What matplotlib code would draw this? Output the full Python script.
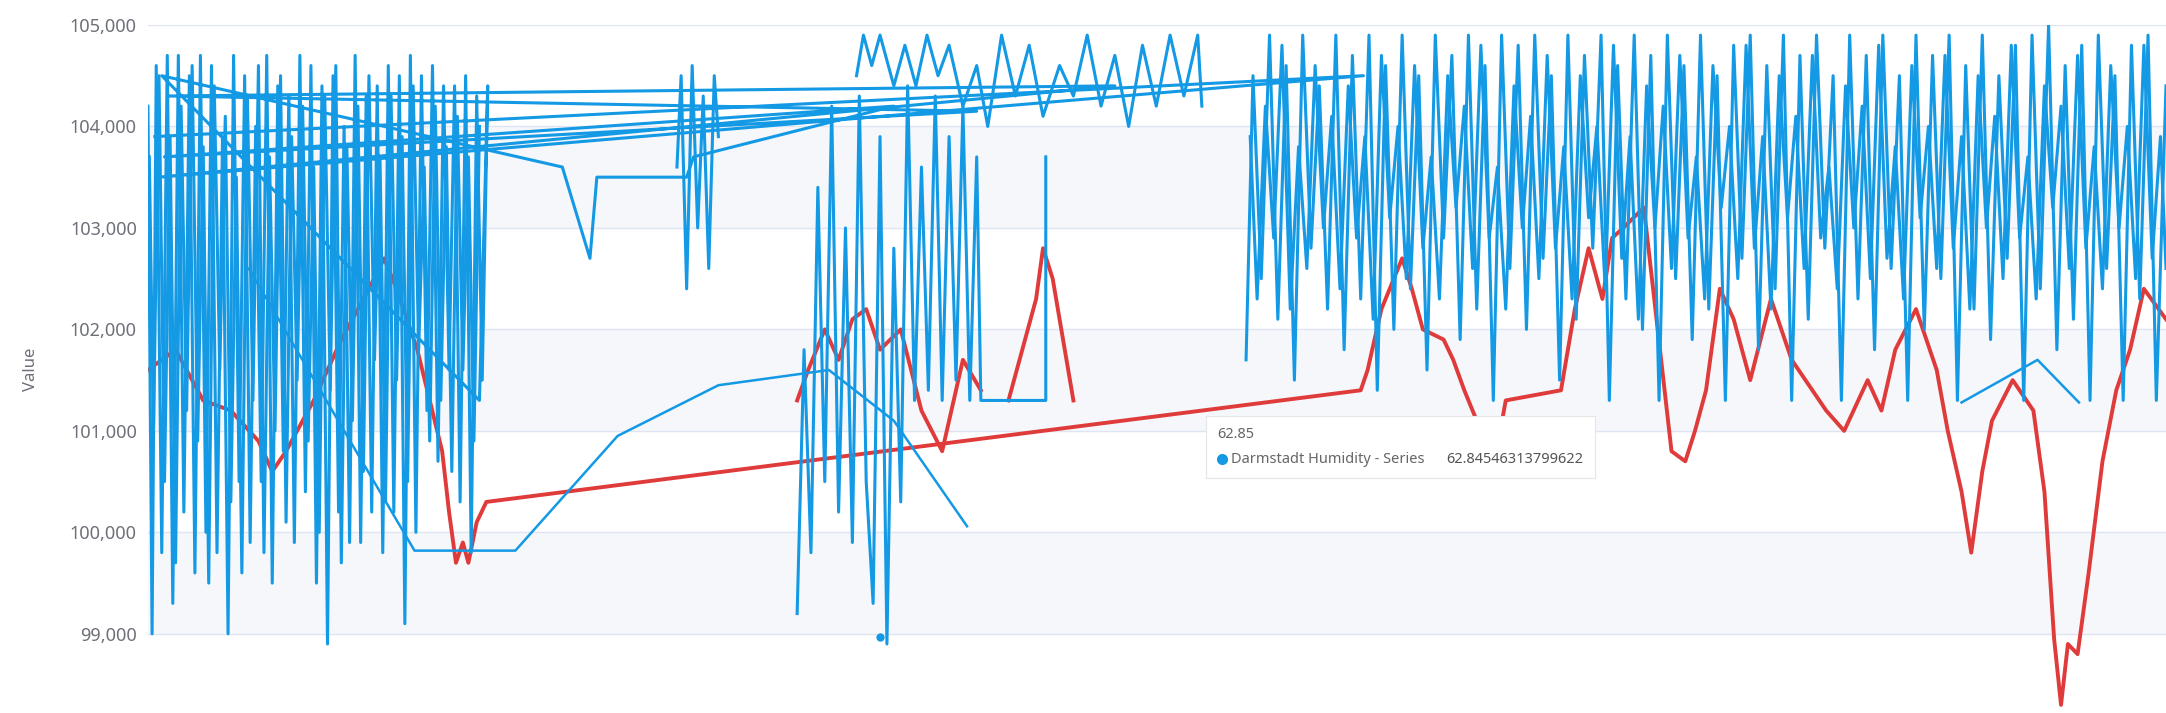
import numpy as np
import matplotlib.pyplot as plt
from matplotlib.ticker import FuncFormatter, MultipleLocator

plt.rcParams['font.family'] = ['Noto Sans', 'DejaVu Sans']

# x is a plain sample index (no x labels in the chart), y is the value
blue_left = [(0,104200),(3,99000),(6,104600),(10,99800),(14,104700),(18,99300),(22,104700),(26,100200),(30,104500),
             (34,99600),(38,104700),(42,100000),(46,104600),(50,99800),(54,103900),(58,99000),(62,104700),(66,100500),
             (70,104500),(74,99900),(78,104000),(82,100500),(86,104700),(90,99500),(94,104400),(98,100800),(102,104300),
             (106,99900),(110,104700),(114,100400),(118,104600),(122,99500),(126,104400),(130,98900),(134,104500),
             (138,100200),(142,104000),(146,99900),(150,104700),(154,99900),(158,104300),(162,100200),(166,104400),
             (170,99800),(174,104600),(178,100200),(182,104500),(186,99100),(190,104700),(194,100000),(198,104500),
             (202,101200),(206,104600),(210,100700),(214,104400),(218,101600),(222,104400),(226,100300),(230,104500),
             (234,99800),(238,104300),(242,101500),(246,104400),(240,101300),(10,104500),(300,103600),(320,102700),
             (325,103500),(390,103500),(395,103700),(540,104200),(12,103700),(600,104150),(15,104300),(700,104400),
             (8,103500),(880,104500),(5,103900)]
blue_left2 = [(1,103700),(4,101000),(8,104500),(12,100500),(16,103900),(20,99700),(24,104200),(28,101200),(32,104600),
              (36,100900),(40,103800),(44,99500),(48,104400),(52,101600),(56,104100),(60,100300),(64,103500),(68,99600),
              (72,104300),(76,101300),(80,104600),(84,99800),(88,103700),(92,101000),(96,104500),(100,100100),
              (104,103900),(108,101500),(112,104200),(116,100900),(120,103600),(124,100000),(128,104300),(132,101400),
              (136,104600),(140,99700),(144,103800),(148,101100),(152,104200),(156,100600),(160,104500),(164,101700),
              (168,103700),(172,100300),(176,104300),(180,101500),(184,103900),(188,100500),(192,104400),(196,101800),
              (200,103600),(204,100900),(208,104200),(212,101300),(216,103800),(220,100600),(224,104100),(228,101600),
              (232,103700),(236,100900),(240,104000)]
blue_mid = [(383,103600),(386,104500),(390,102400),(394,104600),(398,103000),(402,104300),(406,102600),(410,104500),
            (413,103900)]
blue_mid2 = [(470,99200),(475,101800),(480,99800),(485,103400),(490,100500),(495,104200),
             (500,100200),(505,103000),(510,99900),(515,104300),(520,100500),(525,99300),(530,103900),(535,98900),
             (540,102800),(545,100300),(550,104400),(555,101300),(560,103600),(565,101400),(570,104300),(575,101300),
             (580,103900),(585,101500),(590,104200),(595,101300),(600,103700),(603,101300),(650,101300),(650,103700)]
blue_top = [(513,104500),(518,104900),(524,104600),(530,104900),(540,104400),(548,104800),(556,104400),(564,104900),
            (572,104500),(580,104800),(590,104200),(600,104600),(608,104000),(618,104900),(628,104300),(638,104800),
            (648,104100),(660,104600),(670,104300),(680,104900),(690,104200),(700,104700),(710,104000),(720,104800),
            (730,104200),(740,104900),(750,104300),(760,104900),(763,104200)]
blue_right = [(795,101700),(800,104500),(806,102500),(812,104900),(818,102100),(824,104600),(830,101500),(836,104900),
              (842,102800),(848,104400),(854,102200),(860,104900),(866,101800),(872,104700),(878,102300),(884,104900),
              (890,101400),(896,104600),(902,102000),(908,104900),(914,102400),(920,104500),(926,101600),(932,104900),
              (938,102900),(944,104700),(950,101900),(956,104900),(962,102200),(968,104600),(974,101300),(980,104900),
              (986,102600),(992,104800),(998,102000),(1004,104900),(1010,102700),(1016,104500),(1022,101500),(1028,104900),
              (1034,102100),(1040,104700),(1046,102800),(1052,104900),(1058,101300),(1064,104600),(1070,102300),(1076,104900),
              (1082,102000),(1088,104700),(1094,101300),(1100,104900),(1106,102500),(1112,104600),(1118,101900),(1124,104900),
              (1130,102200),(1136,104500),(1142,101300),(1148,104800),(1154,102700),(1160,104900),(1166,101800),(1172,104600),
              (1178,102400),(1184,104900),(1190,101300),(1196,104700),(1202,102100),(1208,104900),(1214,102800),(1220,104500),
              (1226,101300),(1232,104900),(1238,102300),(1244,104700),(1250,101800),(1256,104900),(1262,102600),(1268,104500),
              (1274,101300),(1280,104900),(1286,102000),(1292,104700),(1298,102500),(1304,104900),(1310,101300),(1316,104600),
              (1322,102200),(1328,104900),(1334,101900),(1340,104500),(1346,102700),(1352,104800),(1358,101300),(1364,104900),
              (1370,102400),(1376,105000),(1382,101800),(1388,104600),(1394,102100),(1400,104800),(1406,101300),(1412,104900),
              (1418,102600),(1424,104500),(1430,101300),(1436,104800),(1442,102300),(1448,104900),(1454,101300),(1461,104400)]
blue_right2 = [(798,103900),(803,102300),(809,104200),(815,102900),(821,104800),(827,102200),(833,103800),(839,102600),
               (845,104600),(851,103000),(857,104100),(863,102400),(869,104400),(875,102900),(881,103900),(887,102100),
               (893,104700),(899,103100),(905,104000),(911,102500),(917,104600),(923,102800),(929,103700),(935,102300),
               (941,104500),(947,103200),(953,104200),(959,102600),(965,104800),(971,102900),(977,103600),(983,102200),
               (989,104400),(995,103000),(1001,104100),(1007,102500),(1013,104700),(1019,102800),(1025,103800),(1031,102300),
               (1037,104500),(1043,103100),(1049,104000),(1055,102400),(1061,104800),(1067,102700),(1073,103900),(1079,102100),
               (1085,104400),(1091,103000),(1097,104200),(1103,102600),(1109,104700),(1115,102900),(1121,103700),(1127,102300),
               (1133,104600),(1139,103200),(1145,104000),(1151,102500),(1157,104800),(1163,102800),(1169,103900),(1175,102200),
               (1181,104500),(1187,103100),(1193,104100),(1199,102600),(1205,104700),(1211,102900),(1217,103600),(1223,102400),
               (1229,104400),(1235,103000),(1241,104200),(1247,102500),(1253,104800),(1259,102700),(1265,103800),(1271,102300),
               (1277,104600),(1283,103100),(1289,104000),(1295,102600),(1301,104700),(1307,102800),(1313,103900),(1319,102200),
               (1325,104500),(1331,103000),(1337,104100),(1343,102500),(1349,104800),(1355,102900),(1361,103700),(1367,102300),
               (1373,104400),(1379,103200),(1385,104200),(1391,102600),(1397,104700),(1403,102800),(1409,103800),(1415,102400),
               (1421,104600),(1427,103000),(1433,104000),(1439,102500),(1445,104800),(1451,102700),(1457,103900),(1461,102600)]
blue_thin = [(73,102600),(193,99820),(266,99820),(340,100950),(413,101450),(493,101600),(540,101100),(593,100060)]
blue_thin2 = [(1313,101280),(1368,101700),(1398,101280)]

red_pts = [(0,101600),(20,101800),(40,101300),(60,101200),(80,100900),(90,100600),(100,100800),(120,101300),
           (140,101900),(160,102400),(171,102700),(180,102400),(195,101800),(213,100800),(218,100200),(223,99700),
           (228,99900),(232,99700),(238,100100),(245,100300),(878,101400),(883,101600),(893,102200),(908,102700),
           (915,102400),(923,102000),(938,101900),(945,101700),(953,101400),(965,101000),(975,100700),(983,101300),
           (1023,101400),(1033,102200),(1043,102800),(1053,102300),(1060,102900),(1068,103000),(1083,103200),
           (1093,102000),(1103,100800),(1113,100700),(1120,101000),(1128,101400),(1138,102400),(1148,102100),
           (1160,101500),(1175,102300),(1190,101700),(1205,101400),(1215,101200),(1228,101000),(1245,101500),
           (1255,101200),(1265,101800),(1280,102200),(1295,101600),(1303,101000),(1313,100400),(1320,99800),
           (1328,100600),(1335,101100),(1350,101500),(1365,101200),(1373,100400),(1380,98950),(1385,98300),
           (1390,98900),(1397,98800),(1405,99600),(1415,100700),(1425,101400),(1435,101800),(1445,102400),(1461,102100)]
red_mid = [(470,101300),(478,101600),(490,102000),(500,101700),(510,102100),(520,102200),(530,101800),(545,102000),
           (560,101200),(575,100800),(590,101700),(603,101400)]
red_mid2 = [(623,101300),(643,102300),(648,102800),(655,102500),(670,101300)]

BLUE = "#1499e4"
RED = "#e03b3b"

fig = plt.figure(figsize=(21.66, 7.13), dpi=100)
ax = fig.add_axes([0.0683, 0.0, 0.9317, 0.965])

ymin, ymax = 98220, 105000
for lo in [103000, 101000, 99000]:
    ax.axhspan(lo, lo + 1000, color="#f5f7fb", zorder=0)
for v in range(99000, 105001, 1000):
    ax.axhline(v, color="#e0e6f1", lw=1, zorder=0.5)

def draw(pts, color, lw):
    a = np.array(pts, dtype=float)
    ax.plot(a[:, 0], a[:, 1], color=color, lw=lw, solid_joinstyle="round")

for seg in (red_pts, red_mid, red_mid2):
    draw(seg, RED, 2.8)
for seg in (blue_left, blue_left2, blue_mid, blue_mid2, blue_top, blue_right, blue_right2):
    draw(seg, BLUE, 2.2)
draw(blue_thin, BLUE, 1.8)
draw(blue_thin2, BLUE, 1.8)
ax.plot([530], [98970], "o", color=BLUE, ms=5)

ax.set_xlim(0, 1461)
ax.set_ylim(ymin, ymax)
ax.yaxis.set_major_locator(MultipleLocator(1000))
ax.yaxis.set_major_formatter(FuncFormatter(lambda v, p: f"{int(v):,}" if v >= 99000 else ""))
ax.tick_params(axis="y", length=0, labelsize=13, labelcolor="#6e7079", pad=8)
ax.set_xticks([])
for s in ax.spines.values():
    s.set_visible(False)
ax.set_ylabel("Value", fontsize=12, color="#6e7079", labelpad=22)

# tooltip
tip = fig.add_axes([1206 / 2166, 1 - 478 / 713, 389 / 2166, 62 / 713])
tip.set_xticks([]); tip.set_yticks([])
tip.set_facecolor("white")
for s in tip.spines.values():
    s.set_color("#e6e6e6")
tip.text(0.03, 0.7, "62.85", fontsize=10.5, color="#666666", va="center")
tip.plot([0.04], [0.3], "o", color=BLUE, ms=7)
tip.text(0.065, 0.3, "Darmstadt Humidity - Series", fontsize=10.5, color="#666666", va="center")
tip.text(0.97, 0.3, "62.84546313799622", fontsize=10.5, color="#555555", fontweight="bold", va="center", ha="right")
tip.set_xlim(0, 1); tip.set_ylim(0, 1)

fig.savefig("out.png", dpi=100)
